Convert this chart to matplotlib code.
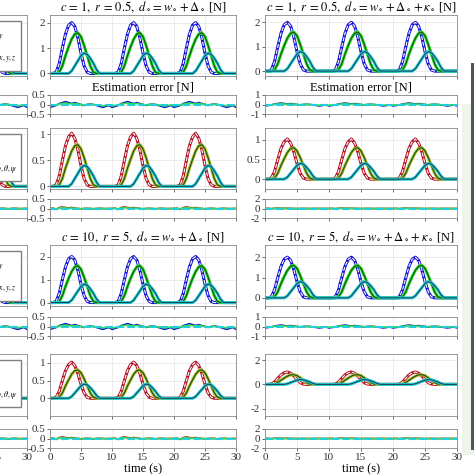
import numpy as np
import matplotlib
matplotlib.use("Agg")
import matplotlib.pyplot as plt
from matplotlib.patches import Rectangle

plt.rcParams['font.family'] = ['Liberation Serif', 'DejaVu Serif']
plt.rcParams['mathtext.fontset'] = 'stix'
plt.rcParams['font.size'] = 8

# one period (0..10 s, step 0.5 s), repeated three times
t_period = [0, 0.5, 1, 1.5, 2, 2.5, 3, 3.5, 4, 4.5, 5, 5.5, 6, 6.5, 7, 7.5, 8, 8.5, 9, 9.5]
blue = [0, 0, 0.05, 0.4, 1.0, 1.55, 1.9, 2.0, 1.85, 1.4, 0.8, 0.3, 0.05, 0, 0, 0, 0, 0, 0, 0]
green = [0, 0, 0, 0.05, 0.3, 0.7, 1.05, 1.35, 1.55, 1.6, 1.45, 1.1, 0.7, 0.3, 0.05, 0, 0, 0, 0, 0]
cyan = [0, 0, 0, 0, 0, 0, 0, 0.1, 0.3, 0.5, 0.7, 0.8, 0.75, 0.6, 0.4, 0.15, 0, 0, 0, 0]
red = [0, 0, 0.03, 0.2, 0.5, 0.78, 0.95, 1.02, 0.92, 0.7, 0.4, 0.15, 0.03, 0, 0, 0, 0, 0, 0, 0]
green_r = [0, 0, 0, 0.03, 0.15, 0.35, 0.52, 0.68, 0.78, 0.8, 0.72, 0.55, 0.35, 0.15, 0.03, 0, 0, 0, 0, 0]
cyan_r = [0, 0, 0, 0, 0, 0, 0, 0.05, 0.15, 0.25, 0.35, 0.4, 0.38, 0.3, 0.2, 0.08, 0, 0, 0, 0]
err1 = [-0.15, -0.1, -0.05, 0.05, 0.1, 0.15, 0.1, 0.05, 0.1, 0.05, 0, -0.05, 0, 0.02, 0, -0.05, -0.1, -0.15, -0.1, -0.05]
err2 = [0, 0.02, -0.05, 0.05, 0.08, 0.05, 0.03, 0.05, 0.02, 0, -0.02, 0, 0.01, 0, -0.02, 0, 0.01, 0, -0.01, 0]

t = np.concatenate([np.array(t_period) + 10 * k for k in range(3)] + [[30]])
def tile(v):
    return np.concatenate([v, v, v, [v[0]]])

W = H = 474
fig = plt.figure(figsize=(4.74, 4.74), dpi=100)
fig.patch.set_facecolor('white')

def ax_at(x0, x1, y0, y1):
    return fig.add_axes([x0 / W, 1 - y1 / H, (x1 - x0) / W, (y1 - y0) / H])

cols = [(-160, 27), (50, 236), (265, 457)]
rows = [(15, 76), (95, 114), (128, 189), (199, 218), (245, 306), (317, 336), (354, 416), (429, 448)]

ylims = {
    1: [(-0.1, 2.3), (-0.5, 0.5), (-0.05, 1.12), (-0.5, 0.5), (-0.15, 2.5), (-0.5, 0.5), (-0.5, 1.25), (-0.5, 0.5)],
    2: [(-0.2, 2.3), (-1, 1), (-0.25, 1.3), (-2, 2), (-0.4, 2.6), (-1, 1), (-2.6, 2.5), (-2, 2)],
}
yticks = {
    1: [[0, 1, 2], [-0.5, 0, 0.5], [0, 0.5, 1], [-0.5, 0, 0.5], [0, 1, 2], [-0.5, 0, 0.5], [0, 0.5, 1], [-0.5, 0, 0.5]],
    2: [[0, 1, 2], [-1, 0, 1], [0, 0.5, 1], [-2, 0, 2], [0, 1, 2], [-1, 0, 1], [-2, 0, 2], [-2, 0, 2]],
}
titles = {
    (1, 0): r'$c\,=\,1,\ r\,=\,0.5,\ d_\circ=w_\circ+\Delta_\circ$ [N]',
    (2, 0): r'$c\,=\,1,\ r\,=\,0.5,\ d_\circ=w_\circ+\Delta_\circ+\kappa_\circ$ [N]',
    (1, 4): r'$c\,=\,10,\ r\,=\,5,\ d_\circ=w_\circ+\Delta_\circ$ [N]',
    (2, 4): r'$c\,=\,10,\ r\,=\,5,\ d_\circ=w_\circ+\Delta_\circ+\kappa_\circ$ [N]',
    (1, 1): 'Estimation error [N]',
    (2, 1): 'Estimation error [N]',
}

for ci, (x0, x1) in enumerate(cols):
    for ri, (y0, y1) in enumerate(rows):
        ax = ax_at(x0, x1, y0, y1)
        big = ri % 2 == 0
        is_red = ri in (2, 3, 6, 7)
        if big:
            m, g, c = (red, green_r, cyan_r) if is_red else (blue, green, cyan)
            mc = '#b01020' if is_red else '#1010d0'
            gc = '#a8c020' if is_red else '#20e020'
            ax.plot(t, tile(m), color=mc, lw=2.2)
            ax.plot(t, tile(m), color='white', lw=0.8, ls='--')
            ax.plot(t, tile(g), color=gc, lw=2.2)
            ax.plot(t, tile(g), color='#1e4a1e', lw=0.8)
            ax.plot(t, tile(c), color='#20d0d8', lw=2.2)
            ax.plot(t, tile(c), color='#1a4a5a', lw=0.8)
            if ci == 0:
                lab = [r'$\hat{d}_\theta$', r'$d_{\phi,\theta,\psi}$'] if is_red else [r'$\hat{d}_y$', r'$d_{x,y,z}$']
                ax.legend([plt.Line2D([], [], color='k', lw=0.8)] * 2, lab,
                          loc='upper right', fontsize=8, handlelength=1.5, framealpha=1, edgecolor='gray', fancybox=False)
        else:
            ec = '#b01020' if is_red else '#1010d0'
            e = err2 if is_red else err1
            ax.plot(t, tile(e), color=ec, lw=1.2)
            ax.plot(t, tile(e) * 0.5, color='#30e050', lw=1.2)
            ax.plot(t, np.zeros_like(t), color='#20d0d8', lw=1.5, ls='--')
        ax.set_xlim(0, 30)
        ax.set_xticks([0, 5, 10, 15, 20, 25, 30])
        if ci >= 1:
            ax.set_ylim(*ylims[ci][ri])
            ax.set_yticks(yticks[ci][ri])
            ax.set_yticklabels([('%g' % v) for v in yticks[ci][ri]])
        else:
            ax.set_ylim(*ylims[1][ri])
            ax.set_yticklabels([])
        if ri != 7:
            ax.set_xticklabels([])
        else:
            if ci >= 1:
                ax.set_xlabel('time (s)', fontsize=9, labelpad=1)
        ax.grid(True, color='#e4e4e4', lw=0.5)
        ax.tick_params(length=2, width=0.5, labelsize=8, pad=1.5, colors='#333333')
        for s in ax.spines.values():
            s.set_color('#888888')
            s.set_linewidth(0.6)
        if (ci, ri) in titles:
            ax.set_title(titles[(ci, ri)], fontsize=9, pad=3)

# right side panel
fig.patches.append(Rectangle((462 / W, 0.04), 12 / W, 0.74, transform=fig.transFigure,
                             facecolor='#eef5e8', edgecolor='none'))
fig.patches.append(Rectangle((471 / W, 1 - 450 / H), 3 / W, (450 - 63) / H, transform=fig.transFigure,
                             facecolor='#555555', edgecolor='none'))

fig.savefig('out.png', dpi=100)
